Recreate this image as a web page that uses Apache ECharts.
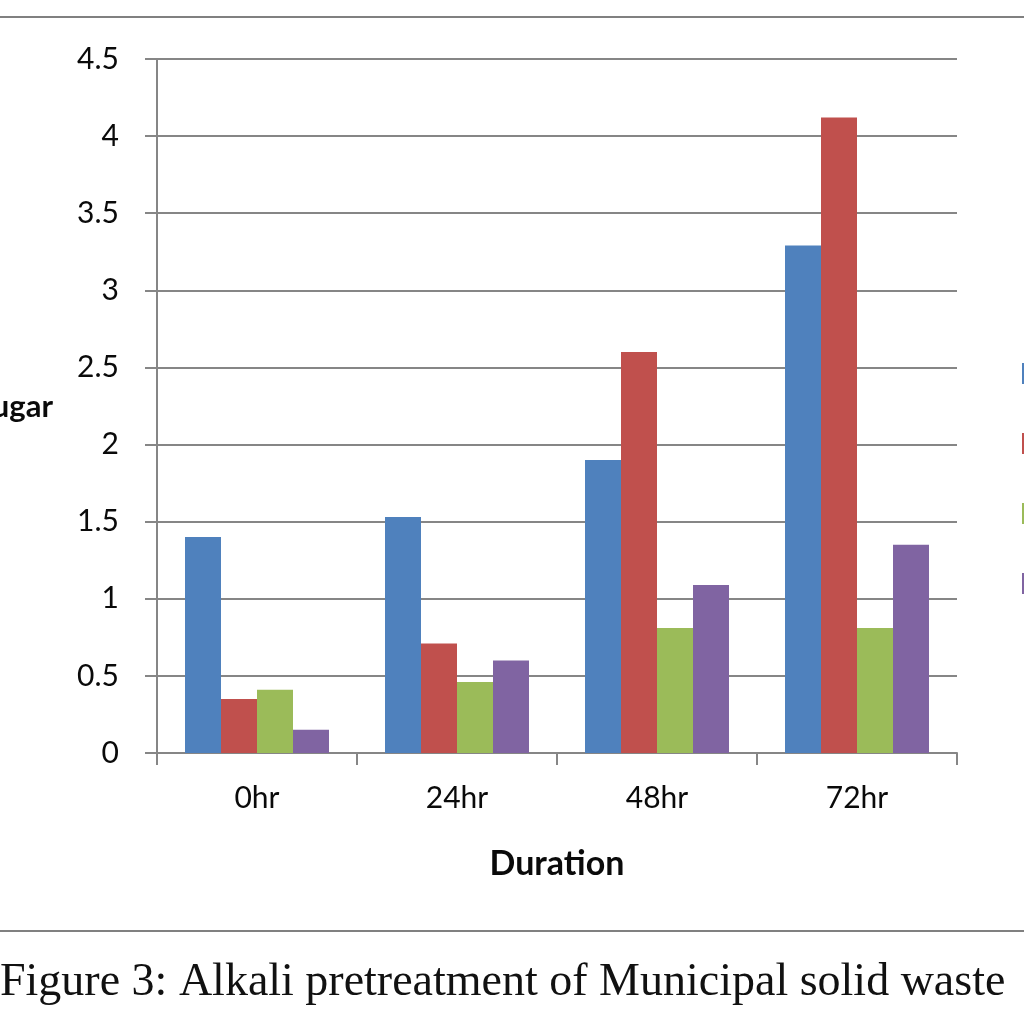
<!DOCTYPE html>
<html>
<head>
<meta charset="utf-8">
<script src="https://cdn.jsdelivr.net/npm/echarts@6/dist/echarts.min.js"></script>
<style>
  html, body { margin: 0; padding: 0; background: #fff; }
  #chart { width: 1024px; height: 1024px; }
</style>
</head>
<body>
<div id="chart"></div>
<script>
const categories = ['0hr', '24hr', '48hr', '72hr']
const seriesNames = ['Series 1', 'Series 2', 'Series 3', 'Series 4']
const series1 = [1.40, 1.53, 1.90, 3.29]
const series2 = [0.35, 0.71, 2.60, 4.12]
const series3 = [0.41, 0.46, 0.81, 0.81]
const series4 = [0.15, 0.60, 1.09, 1.35]
const colors = ['#4F81BD', '#C0504D', '#9BBB59', '#8064A2']

const gridColor = '#868686'
const labelFont = 'Lato, "Open Sans", sans-serif'

const chart = echarts.init(document.getElementById('chart'))

chart.setOption({
  animation: false,
  backgroundColor: '#fff',
  grid: { left: 157, right: 67, top: 59, bottom: 271 },
  legend: {
    orient: 'vertical',
    left: 1017,
    top: 358,
    icon: 'rect',
    itemWidth: 22,
    itemHeight: 21,
    itemGap: 49,
    formatter: () => '',
    textStyle: { fontSize: 1 },
    data: seriesNames,
  },
  xAxis: {
    type: 'category',
    data: categories,
    axisLine: { lineStyle: { color: gridColor, width: 2 } },
    axisTick: { show: true, length: 12, alignWithLabel: false, lineStyle: { color: gridColor, width: 2 } },
    axisLabel: { margin: 30, fontSize: 30, fontFamily: labelFont, color: '#0a0a0a' },
    name: 'Duration',
    nameLocation: 'middle',
    nameGap: 94,
    nameTextStyle: { fontSize: 34, fontWeight: 'bold', fontFamily: labelFont, color: '#0a0a0a' },
  },
  yAxis: {
    type: 'value',
    min: 0,
    max: 4.5,
    interval: 0.5,
    axisLine: { show: true, lineStyle: { color: gridColor, width: 2 } },
    axisTick: { show: true, length: 12, lineStyle: { color: gridColor, width: 2 } },
    axisLabel: { margin: 38, fontSize: 30, fontFamily: labelFont, color: '#0a0a0a' },
    splitLine: { lineStyle: { color: gridColor, width: 2 } },
  },
  series: [series1, series2, series3, series4].map((d, i) => ({
    name: seriesNames[i],
    type: 'bar',
    data: d,
    barGap: 0,
    barCategoryGap: '28%',
    itemStyle: { color: colors[i] },
  })),
  graphic: [
    { type: 'line', shape: { x1: 0, y1: 17, x2: 1024, y2: 17 }, style: { stroke: '#808080', lineWidth: 2 } },
    { type: 'line', shape: { x1: 0, y1: 931, x2: 1024, y2: 931 }, style: { stroke: '#808080', lineWidth: 2 } },
    {
      type: 'text', x: 53, y: 407,
      style: { text: 'ugar', align: 'right', verticalAlign: 'middle', font: 'bold 31px ' + labelFont, fill: '#0a0a0a' },
    },
    {
      type: 'text', x: 0, y: 983,
      style: { text: 'Figure 3: Alkali pretreatment of Municipal solid waste', align: 'left', verticalAlign: 'middle', font: '46px "Liberation Serif", "Times New Roman", serif', fill: '#111' },
    },
  ],
})
</script>
</body>
</html>
